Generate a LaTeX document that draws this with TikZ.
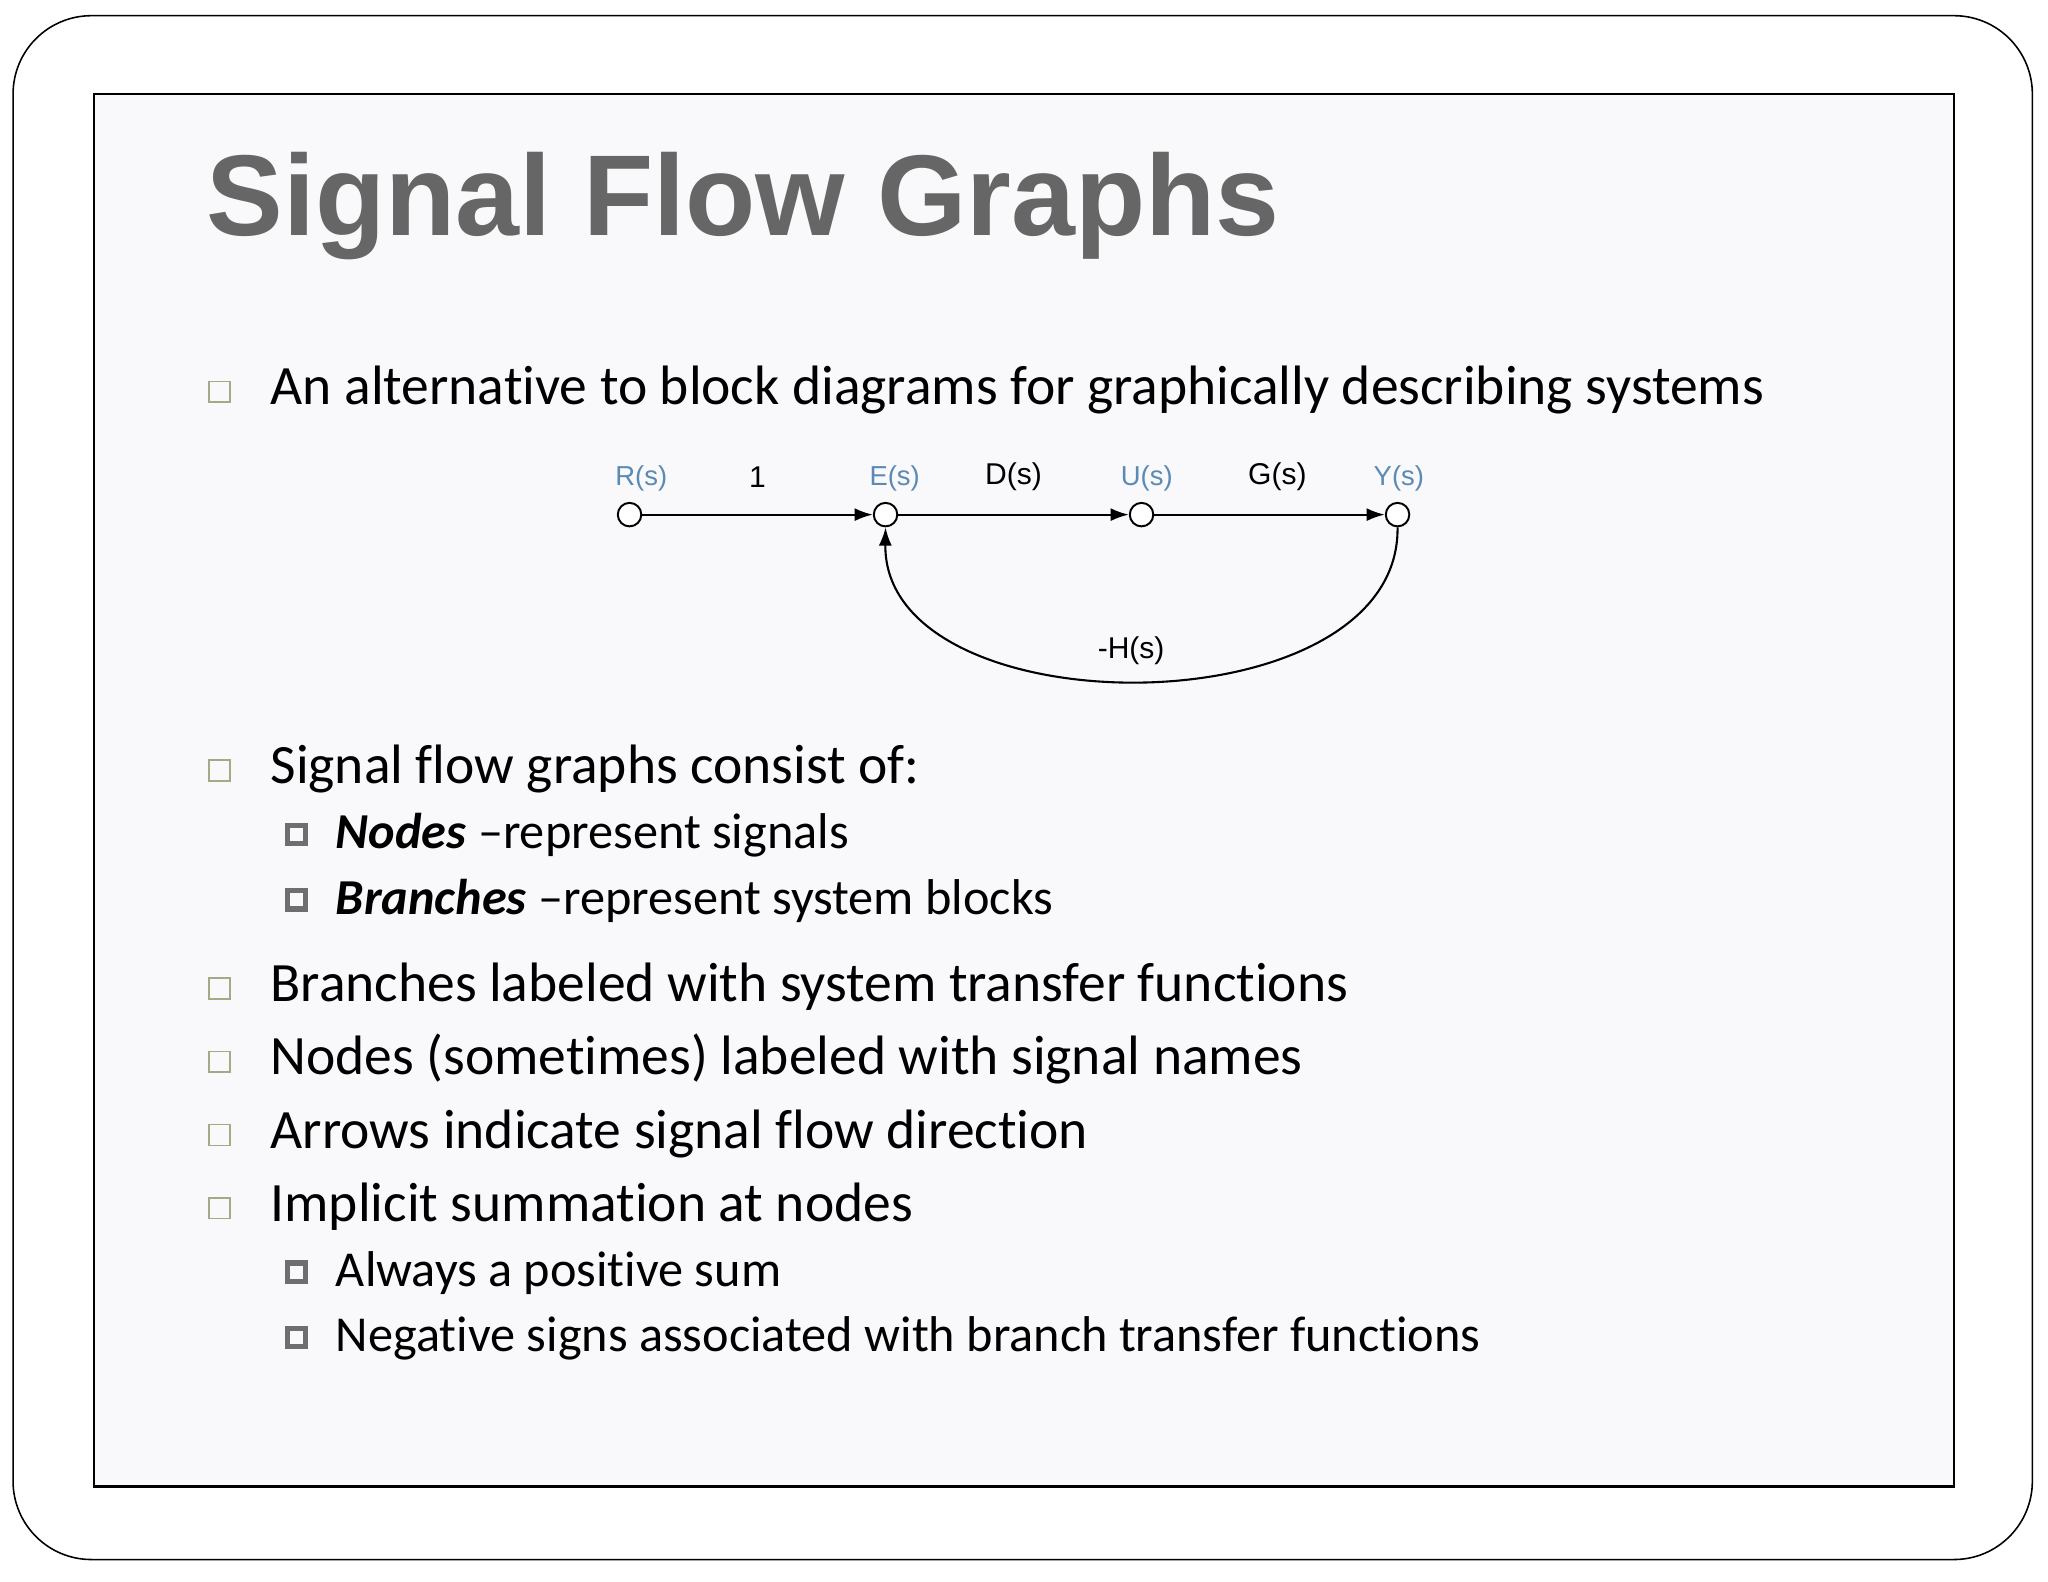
\documentclass[tikz,border=0pt]{standalone}
\usepackage{fontspec}
\setmainfont[RawFeature=-liga]{Carlito}
\newfontfamily\arialf{Liberation Sans}
\usetikzlibrary{arrows.meta}
\definecolor{bg}{HTML}{F9F9FB}
\definecolor{titlegray}{HTML}{666666}
\definecolor{bulgreen}{HTML}{A3AA85}
\definecolor{bulgray}{HTML}{6E6E6E}
\definecolor{nodeblue}{HTML}{5B8AB5}
\tikzset{
  lone/.style={anchor=base west,font=\fontsize{42.5}{46}\selectfont,inner sep=0},
  ltwo/.style={anchor=base west,font=\fontsize{38.5}{42}\selectfont,inner sep=0},
  bone/.style={draw=bulgreen,line width=1.3pt},
  btwo/.style={draw=bulgray,line width=4pt},
  sfn/.style={circle,draw,line width=1.5pt,minimum size=18pt,inner sep=0,fill=white},
  nlab/.style={font=\arialf\fontsize{21}{23}\selectfont,text=nodeblue},
  blab/.style={font=\arialf\fontsize{23}{25}\selectfont},
  br/.style={line width=1.6pt,-{Latex[length=14pt,width=10pt]}}
}
\begin{document}
\begin{tikzpicture}[x=1pt,y=-1pt]
\useasboundingbox (0,0) rectangle (1568,1211);
\fill[white] (0,0) rectangle (1568,1211);
\draw[line width=1.2pt,rounded corners=60pt,fill=white] (10,12) rectangle (1556,1194);
\draw[line width=2pt,fill=bg] (72,72) rectangle (1496,1138);
\node[anchor=base west,inner sep=0,text=titlegray,font=\arialf\bfseries\fontsize{88}{94}\selectfont] (title) at (158,180) {Signal Flow Graphs};
% level 1 bullets
\foreach \y in {310,600,767,823,879,935}{
  \draw[bone] (160,{\y-18}) rectangle (176,{\y-2});
}
\node[lone] (t1) at (207,310) {An alternative to block diagrams for graphically describing systems};
\node[lone] (t2) at (207,600) {Signal flow graphs consist of:};
\node[lone] (t3) at (207,767) {Branches labeled with system transfer functions};
\node[lone] (t4) at (207,823) {Nodes (sometimes) labeled with signal names};
\node[lone] (t5) at (207,879) {Arrows indicate signal flow direction};
\node[lone] (t6) at (207,935) {Implicit summation at nodes};
% level 2 bullets
\foreach \y in {650,700,985,1035}{
  \draw[btwo] (220,{\y-18}) rectangle (234,{\y-4});
}
\node[ltwo] (s1) at (257,650) {\textbf{\textit{Nodes}} –represent signals};
\node[ltwo] (s2) at (257,700) {\textbf{\textit{Branches}} –represent system blocks};
\node[ltwo] (s3) at (257,985) {Always a positive sum};
\node[ltwo] (s4) at (257,1035) {Negative signs associated with branch transfer\ functions};
% signal flow graph
\node[sfn] (R) at (482,394) {};
\node[sfn] (E) at (678,394) {};
\node[sfn] (U) at (874,394) {};
\node[sfn] (Y) at (1070,394) {};
\node[nlab] (lR) at (491,366) {R(s)};
\node[nlab] (lE) at (685,366) {E(s)};
\node[nlab] (lU) at (878,366) {U(s)};
\node[nlab] (lY) at (1071,366) {Y(s)};
\node[blab] (b1) at (580,365) {1};
\node[blab] (b2) at (776,365) {D(s)};
\node[blab] (b3) at (978,365) {G(s)};
\draw[br] (R) -- (E);
\draw[br] (E) -- (U);
\draw[br] (U) -- (Y);
\draw[br] (Y.south) .. controls (1072,560) and (676,560) .. (E.south);
\node[blab] (bh) at (866,498) {-H(s)};
\end{tikzpicture}
\end{document}
